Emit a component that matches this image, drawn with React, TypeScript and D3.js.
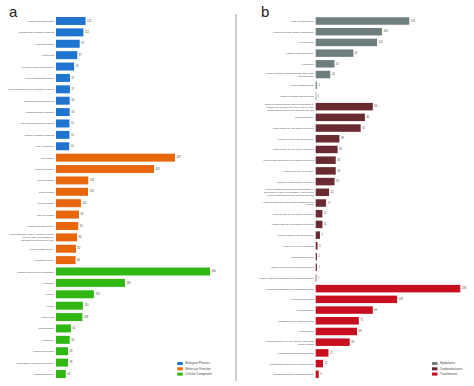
import React from 'react';
import * as d3 from 'd3';

const W = 474;
const H = 386;

// GO annotation (panel a)
const bpTerms = [
  'protein phosphorylation',
  'carbohydrate metabolic process',
  'phosphorylation',
  'proteolysis',
  'cellular oxidant detoxification',
  'protein dephosphorylation',
  'cellular macromolecule metabolic process',
  'oxidation-reduction process',
  'transmembrane transport',
  'fatty acid biosynthetic process',
  'primary metabolic process',
  'DNA integration',
];
const bpCounts = [121, 112, 97, 87, 74, 57, 57, 56, 56, 55, 55, 54];

const mfTerms = [
  'ATP binding',
  'metal ion binding',
  'iron ion binding',
  'heme binding',
  'protein binding',
  'zinc ion binding',
  'monooxygenase activity',
  'oxidoreductase activity, acting on paired\ndonors, with incorporation or\nreduction of molecular oxygen',
  'protein kinase activity',
  'hydrolase activity',
];
const mfCounts = [487, 401, 132, 131, 102, 94, 91, 86, 82, 80];

const ccTerms = [
  'integral component of membrane',
  'cytoplasm',
  'nucleus',
  'cytosol',
  'chloroplast',
  'mitochondrion',
  'membrane',
  'extracellular region',
  'endoplasmic reticulum membrane',
  'plasma membrane',
];
const ccCounts = [630, 282, 155, 110, 108, 61, 56, 49, 49, 40];

const goGroups = ['Biological Process', 'Molecular Function', 'Cellular Component'];

// Enzyme classes (panel b)
const hydTerms = [
  'Acting on ester bonds',
  'Acting on peptide bonds (peptidases)',
  'Glycosylases',
  'Acting on acid anhydrides',
  'Hydrolases',
  'Acting on carbon-nitrogen bonds, other than\npeptide bonds',
  'Acting on ether bonds',
  'Acting on carbon-carbon bonds',
];
const hydCounts = [154, 109, 101, 62, 31, 24, 2, 1];

const oxiTerms = [
  'Acting on paired donors, with incorporation or\nreduction of molecular oxygen. The oxygen\nincorporated need not be derived from O2',
  'Oxidoreductases',
  'Acting on the CH-OH group of donors',
  'Acting on a peroxide as acceptor',
  'Acting on the CH-CH group of donors',
  'Acting on the aldehyde or oxo group of donors',
  'Acting on NADH or NADPH',
  'Acting on a sulfur group of donors',
  'Acting on single donors with incorporation of\nmolecular oxygen (oxygenases). The oxygen\nincorporated need not be derived from O2',
  'Acting on diphenols and related substances as\ndonors',
  'Acting on the CH-NH group of donors',
  'Acting on the CH-NH2 group of donors',
  'Acting on superoxide as acceptor',
  'Acting on CH or CH2 groups',
  'Oxidizing metal ions',
  'Acting on iron-sulfur proteins as donors',
  'Acting on other nitrogenous compounds as donors',
];
const oxiCounts = [94, 81, 74, 39, 36, 33, 33, 31, 22, 17, 11, 11, 7, 3, 2, 2, 1];

const traTerms = [
  'Transferring phosphorus-containing groups',
  'Glycosyltransferases',
  'Acyltransferases',
  'Transferring one-carbon groups',
  'Transferases',
  'Transferring alkyl or aryl groups, other than\nmethyl groups',
  'Transferring nitrogenous groups',
  'Transferring aldehyde or ketonic groups',
  'Transferring sulfur-containing groups',
];
const traCounts = [238, 134, 94, 71, 68, 56, 21, 12, 5];

const ecGroups = ['Hydrolases', 'Oxidoreductases', 'Transferases'];

type Row = { term: string; count: number; group: string };

const toRows = (terms: string[], counts: number[], group: string): Row[] =>
  terms.map((t, i) => ({ term: t, count: counts[i], group }));

const goRows: Row[] = [
  ...toRows(bpTerms, bpCounts, goGroups[0]),
  ...toRows(mfTerms, mfCounts, goGroups[1]),
  ...toRows(ccTerms, ccCounts, goGroups[2]),
];
const ecRows: Row[] = [
  ...toRows(hydTerms, hydCounts, ecGroups[0]),
  ...toRows(oxiTerms, oxiCounts, ecGroups[1]),
  ...toRows(traTerms, traCounts, ecGroups[2]),
];

const goColor = d3.scaleOrdinal<string, string>().domain(goGroups).range(['#1f74d0', '#e8670c', '#2fb712']);
const ecColor = d3.scaleOrdinal<string, string>().domain(ecGroups).range(['#6e7e7f', '#6a2a31', '#c70f1f']);

const FONT = '"Liberation Sans", Arial, sans-serif';

type PanelProps = {
  rows: Row[];
  groups: string[];
  color: d3.ScaleOrdinal<string, string>;
  xStart: number;
  xEnd: number;
  xMax: number;
  yTop: number;
  yBottom: number;
  letter: string;
  letterX: number;
  legendX: number;
};

function Panel({ rows, groups, color, xStart, xEnd, xMax, yTop, yBottom, letter, letterX, legendX }: PanelProps) {
  const x = d3.scaleLinear().domain([0, xMax]).range([xStart, xEnd]);
  const y = d3
    .scaleBand<string>()
    .domain(rows.map((r) => r.term))
    .range([yTop, yBottom])
    .paddingInner(0.3)
    .paddingOuter(0.15);
  const lh = 2.9;
  return (
    <g>
      <text x={letterX} y={17} fontSize={15} fontFamily={FONT} fill="#222">
        {letter}
      </text>
      {rows.map((r) => {
        const yy = y(r.term)!;
        const cy = yy + y.bandwidth() / 2;
        const lines = r.term.split('\n');
        return (
          <g key={r.term}>
            <rect
              x={x(0)}
              y={yy}
              width={Math.max(0.6, x(r.count) - x(0))}
              height={y.bandwidth()}
              fill={color(r.group)}
            />
            <text
              x={x(0) - 2}
              y={cy}
              textAnchor="end"
              dominantBaseline="middle"
              fontSize={2.5}
              fontFamily={FONT}
              fill="#444"
            >
              {lines.map((l, i) => (
                <tspan key={i} x={x(0) - 2} dy={i === 0 ? (-(lines.length - 1) / 2) * lh : lh}>
                  {l}
                </tspan>
              ))}
            </text>
            <text
              x={x(r.count) + 1.5}
              y={cy}
              dominantBaseline="middle"
              fontSize={2.6}
              fontFamily={FONT}
              fill="#444"
            >
              {r.count}
            </text>
          </g>
        );
      })}
      {groups.map((g, i) => (
        <g key={g} transform={`translate(${legendX},${362 + i * 5.3})`}>
          <rect x={0} y={0} width={5.5} height={3} fill={color(g)} />
          <text x={8} y={1.6} dominantBaseline="middle" fontSize={3} fontFamily={FONT} fill="#444">
            {g}
          </text>
        </g>
      ))}
    </g>
  );
}

export default function App() {
  return (
    <svg
      width={W}
      height={H}
      viewBox={`0 0 ${W} ${H}`}
      style={{ position: 'absolute', left: 0, top: 0, background: '#fff' }}
    >
      <rect width={W} height={H} fill="#fff" />
      <line x1={236} x2={236} y1={14} y2={381} stroke="#cfcfcf" strokeWidth={2} />
      <Panel
        rows={goRows}
        groups={goGroups}
        color={goColor}
        xStart={56}
        xEnd={210}
        xMax={630}
        yTop={15.3}
        yBottom={379.7}
        letter="a"
        letterX={9}
        legendX={177.3}
      />
      <Panel
        rows={ecRows}
        groups={ecGroups}
        color={ecColor}
        xStart={315.7}
        xEnd={460.3}
        xMax={238}
        yTop={15.65}
        yBottom={379.65}
        letter="b"
        letterX={261}
        legendX={432}
      />
    </svg>
  );
}
